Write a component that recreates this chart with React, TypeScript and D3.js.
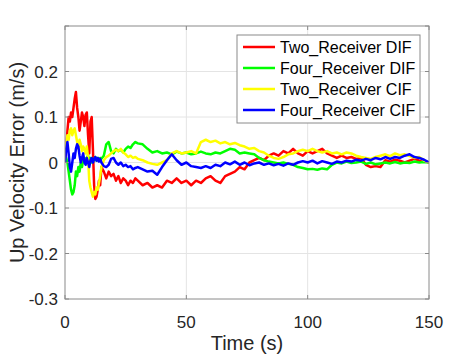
import React from "react";
import * as d3 from "d3";

const T: number[] = [
  0, 0.5, 1, 1.5, 2, 2.5, 3, 3.5, 4, 4.5, 5, 5.5, 6, 6.5, 7, 7.5, 8, 8.5, 9, 9.5,
  10, 10.5, 11, 11.5, 12, 12.5, 13, 13.5, 14, 14.5, 15, 16, 17, 18, 19, 20, 21, 22,
  23, 24, 25, 26, 27, 28, 29, 30, 32, 34, 36, 38, 40, 42, 44, 46, 48, 50, 52, 54,
  56, 58, 60, 62, 64, 66, 68, 70, 72, 74, 76, 78, 80, 82, 84, 86, 88, 90, 92, 94,
  96, 98, 100, 102, 104, 106, 108, 110, 112, 114, 116, 118, 120, 122, 124, 126,
  128, 130, 132, 134, 136, 138, 140, 142, 144, 146, 148, 150,
];

const twoDIF: number[] = [
  0.0, 0.03, 0.07, 0.1, 0.09, 0.11, 0.1, 0.12, 0.14, 0.155, 0.12, 0.1, 0.07, 0.09,
  0.11, 0.1, 0.08, 0.105, 0.11, 0.06, 0.02, 0.09, 0.1, 0.03, -0.05, -0.08, -0.075,
  -0.06, -0.04, -0.05, -0.01, -0.02, -0.035, -0.02, -0.03, -0.025, -0.04, -0.03,
  -0.045, -0.035, -0.04, -0.05, -0.04, -0.045, -0.035, -0.04, -0.05, -0.045,
  -0.055, -0.05, -0.055, -0.04, -0.045, -0.035, -0.045, -0.04, -0.05, -0.04,
  -0.045, -0.035, -0.03, -0.04, -0.045, -0.03, -0.025, -0.02, -0.01, -0.015, 0.0,
  0.005, 0.01, 0.005, 0.015, 0.02, 0.015, 0.025, 0.02, 0.03, 0.02, 0.015, 0.025,
  0.02, 0.025, 0.03, 0.02, 0.015, 0.01, 0.015, 0.01, 0.012, 0.008, 0.01, -0.005,
  -0.01, -0.008, -0.01, 0.005, 0.002, 0.006, 0.004, 0.0, 0.004, 0.008, 0.004,
  0.003, 0.0,
];

const fourDIF: number[] = [
  0.0, 0.01, 0.0, -0.02, -0.04, -0.06, -0.07, -0.065, -0.05, -0.02, -0.03, -0.01,
  -0.02, 0.0, -0.01, 0.005, 0.01, 0.0, 0.01, 0.015, 0.005, 0.01, 0.0, 0.008, 0.005,
  0.012, 0.004, 0.01, 0.005, 0.01, 0.008, 0.015, 0.04, 0.045, 0.025, 0.02, 0.03,
  0.025, 0.028, 0.022, 0.03, 0.035, 0.032, 0.04, 0.045, 0.042, 0.04, 0.03, 0.022,
  0.025, 0.02, 0.022, 0.018, 0.024, 0.02, 0.022, 0.018, 0.02, 0.024, 0.02, 0.018,
  0.022, 0.02, 0.025, 0.03, 0.028, 0.02, 0.022, 0.02, 0.018, 0.01, 0.005, 0.002,
  0.0, -0.002, 0.0, -0.003, -0.005, -0.01, -0.012, -0.015, -0.014, -0.016, -0.013,
  -0.015, -0.005, 0.0, -0.002, 0.002, -0.001, 0.0, 0.002, -0.003, 0.0, -0.004,
  -0.002, 0.0, -0.002, 0.001, -0.002, 0.0, -0.001, 0.002, 0.0, 0.001, 0.0,
];

const twoCIF: number[] = [
  0.02, 0.04, 0.06, 0.05, 0.07, 0.075, 0.06, 0.07, 0.075, 0.06, 0.045, 0.03, 0.05,
  0.04, 0.025, 0.035, 0.03, 0.02, 0.035, 0.01, -0.04, -0.055, -0.065, -0.075,
  -0.065, -0.07, -0.055, -0.06, -0.045, -0.03, -0.01, 0.005, 0.012, 0.015, 0.02,
  0.025, 0.028, 0.025, 0.03, 0.022, 0.018, 0.012, 0.015, 0.01, 0.012, 0.008, 0.005,
  0.0, -0.003, -0.005, 0.0, 0.005, 0.02, 0.025, 0.02, 0.022, 0.025, 0.02, 0.045,
  0.05, 0.045, 0.048, 0.042, 0.045, 0.04, 0.043, 0.038, 0.035, 0.03, 0.032, 0.025,
  0.022, 0.015, 0.01, 0.008, 0.012, 0.018, 0.02, 0.025, 0.028, 0.025, 0.03, 0.025,
  0.022, 0.025, 0.02, 0.022, 0.018, 0.022, 0.02, 0.015, 0.012, 0.01, 0.008, 0.012,
  0.015, 0.018, 0.014, 0.02, 0.016, 0.018, 0.014, 0.01, 0.012, 0.004, 0.0,
];

const fourCIF: number[] = [
  0.0, 0.03, 0.045, 0.02, -0.01, -0.02, 0.0, 0.02, 0.01, 0.03, 0.04, 0.035, 0.015,
  0.0, 0.01, 0.02, 0.0, -0.005, 0.01, 0.0, -0.01, 0.005, 0.01, 0.0, 0.008, 0.012,
  0.004, 0.01, 0.002, 0.008, 0.0, -0.008, -0.01, -0.005, 0.008, 0.01, 0.0, -0.005,
  0.0, -0.008, -0.005, -0.01, -0.008, -0.015, -0.012, -0.01, -0.015, -0.02, -0.018,
  -0.027, -0.01, 0.005, 0.018, 0.005, -0.005, 0.0, -0.008, -0.01, -0.012, -0.008,
  -0.012, -0.005, -0.008, 0.0, -0.004, 0.002, -0.005, 0.0, -0.006, -0.002, 0.0,
  -0.005, -0.002, -0.006, -0.003, -0.007, -0.002, -0.005, 0.0, 0.003, 0.0, 0.004,
  -0.002, 0.003, 0.0, -0.003, 0.002, 0.0, 0.004, 0.002, 0.006, 0.004, 0.008, 0.005,
  0.01, 0.007, 0.012, 0.008, 0.012, 0.01, 0.015, 0.018, 0.012, 0.01, 0.006, 0.0,
];

const seriesNames = ["Two_Receiver DIF", "Four_Receiver DIF", "Two_Receiver CIF", "Four_Receiver CIF"];
const seriesColors = ["#ff0000", "#00ff00", "#ffff00", "#0000ff"];
const seriesValues = [twoDIF, fourDIF, twoCIF, fourCIF];

const xTicks = [0, 50, 100, 150];
const yTicks = [-0.3, -0.2, -0.1, 0, 0.1, 0.2, 0.3];
const yTickLabels = ["-0.3", "-0.2", "-0.1", "0", "0.1", "0.2", ""];

const W = 474;
const H = 355;
const L = 65;
const R = 429;
const TOP = 26;
const BOT = 299;
const FONT = "'Liberation Sans', Arial, Helvetica, sans-serif";

export default function App() {
  const x = d3.scaleLinear().domain([0, 150]).range([L, R]);
  const y = d3.scaleLinear().domain([-0.3, 0.3]).range([BOT, TOP]);
  const axisColor = "#8a8a8a";
  const gridColor = "#e4e4e4";

  const line = (vals: number[]) =>
    d3
      .line<number>()
      .x((_, i) => x(T[i]))
      .y((v) => y(v))
      .curve(d3.curveLinear)(vals) || "";

  const legX = 237;
  const legY = 35;
  const legW = 183;
  const legH = 88;
  const rowH = 21;

  return (
    <svg width={W} height={H} style={{ position: "absolute", left: 0, top: 0, background: "#fff" }}>
      <rect x={0} y={0} width={W} height={H} fill="#fff" />
      {xTicks.slice(1, -1).map((t) => (
        <line key={"gx" + t} x1={x(t)} x2={x(t)} y1={TOP} y2={BOT} stroke={gridColor} strokeWidth={1} />
      ))}
      {yTicks.slice(1, -1).map((t) => (
        <line key={"gy" + t} x1={L} x2={R} y1={y(t)} y2={y(t)} stroke={gridColor} strokeWidth={1} />
      ))}
      <defs>
        <clipPath id="clip">
          <rect x={L} y={TOP} width={R - L} height={BOT - TOP} />
        </clipPath>
      </defs>
      <g clipPath="url(#clip)">
        {seriesValues.map((vals, i) => (
          <path key={i} d={line(vals)} fill="none" stroke={seriesColors[i]} strokeWidth={2.5} strokeLinejoin="round" />
        ))}
      </g>
      <rect x={L} y={TOP} width={R - L} height={BOT - TOP} fill="none" stroke={axisColor} strokeWidth={1} />
      {xTicks.map((t) => (
        <g key={"tx" + t}>
          <line x1={x(t)} x2={x(t)} y1={BOT} y2={BOT - 4} stroke={axisColor} />
          <line x1={x(t)} x2={x(t)} y1={TOP} y2={TOP + 4} stroke={axisColor} />
          <text x={x(t)} y={328} textAnchor="middle" fontFamily={FONT} fontSize={17} fill="#262626">
            {t}
          </text>
        </g>
      ))}
      {yTicks.map((t, i) => (
        <g key={"ty" + t}>
          <line x1={L} x2={L + 4} y1={y(t)} y2={y(t)} stroke={axisColor} />
          <line x1={R} x2={R - 4} y1={y(t)} y2={y(t)} stroke={axisColor} />
          <text x={58} y={y(t) + 6} textAnchor="end" fontFamily={FONT} fontSize={17} fill="#262626">
            {yTickLabels[i]}
          </text>
        </g>
      ))}
      <text x={(L + R) / 2} y={350} textAnchor="middle" fontFamily={FONT} fontSize={20} fill="#262626">
        Time (s)
      </text>
      <text
        transform={`translate(24, ${(TOP + BOT) / 2}) rotate(-90)`}
        textAnchor="middle"
        fontFamily={FONT}
        fontSize={20}
        fill="#262626"
      >
        Up Velocity Error (m/s)
      </text>
      <rect x={legX} y={legY} width={legW} height={legH} fill="#fff" stroke={axisColor} strokeWidth={1} />
      {seriesNames.map((n, i) => {
        const cy = legY + 12 + i * rowH;
        return (
          <g key={n}>
            <line x1={legX + 6} x2={legX + 38} y1={cy} y2={cy} stroke={seriesColors[i]} strokeWidth={2.5} />
            <text x={legX + 43} y={cy + 5.5} fontFamily={FONT} fontSize={16} fill="#000">
              {n}
            </text>
          </g>
        );
      })}
    </svg>
  );
}
